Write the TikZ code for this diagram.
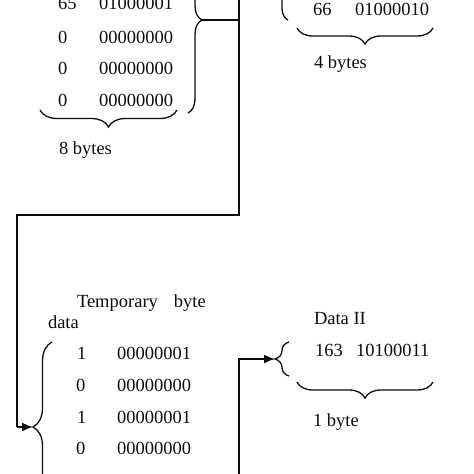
\documentclass[tikz,border=0pt]{standalone}
\usepackage{fontspec}
\setmainfont{Liberation Serif}
\usetikzlibrary{arrows.meta,decorations.pathreplacing}
\definecolor{ByteInk}{gray}{0.05}
\tikzset{
    bytes/diagram/.style={
        x=1pt, y=-1pt,
        font=\fontsize{18.5}{20}\selectfont,
        draw=ByteInk,
        text=ByteInk,
        line width=1.6pt,
        every node/.style={inner sep=0pt, outer sep=0pt}
    },
    bytes/cell/.style={anchor=base west},
    bytes/brace/.style={
        draw=ByteInk, line width=1.3pt,
        decorate, decoration={brace, amplitude=#1}
    },
    bytes/brace/.default=14pt,
    bytes/link/.style={draw=ByteInk, line width=1.6pt},
    bytes/arrow/.style={
        draw=ByteInk, line width=1.6pt,
        -{Latex[length=11pt, width=9pt]}
    }
}

\begin{document}
\begin{tikzpicture}[bytes/diagram]
    \useasboundingbox (0,0) rectangle (474,474);
    \clip (0,0) rectangle (474,474);

    % first group, 8 bytes
    \node[bytes/cell] (v65)  at (58,9)   {65};
    \node[bytes/cell] (b65)  at (99,9)   {01000001};
    \node[bytes/cell] (v0a)  at (58,43)  {0};
    \node[bytes/cell] (b0a)  at (99,43)  {00000000};
    \node[bytes/cell] (v0b)  at (58,74)  {0};
    \node[bytes/cell] (b0b)  at (99,74)  {00000000};
    \node[bytes/cell] (v0c)  at (58,106) {0};
    \node[bytes/cell] (b0c)  at (99,106) {00000000};
    \draw[bytes/brace=14pt] (188,-73) -- (188,113);
    \draw[bytes/brace=17pt] (177,110) -- (40,110);
    \node[bytes/cell] (eight) at (59,154) {8 bytes};
    \coordinate (tipA) at (202,20);

    % second group, 4 bytes
    \node[bytes/cell] (v66) at (313,15) {66};
    \node[bytes/cell] (b66) at (355,15) {01000010};
    \draw[bytes/brace=12pt] (288,20) -- (288,-60);
    \draw[bytes/brace=16pt] (433,28) -- (297,28);
    \node[bytes/cell] (four) at (314,68) {4 bytes};

    % temporary byte data
    \node[bytes/cell] (temp) at (77,307) {Temporary\hspace{16pt}byte};
    \node[bytes/cell] (data) at (48,328) {data};
    \node[bytes/cell] (t1a) at (77,359) {1};
    \node[bytes/cell] (c1a) at (117,359) {00000001};
    \node[bytes/cell] (t0a) at (76,391) {0};
    \node[bytes/cell] (c0a) at (117,391) {00000000};
    \node[bytes/cell] (t1b) at (77,423) {1};
    \node[bytes/cell] (c1b) at (117,423) {00000001};
    \node[bytes/cell] (t0b) at (76,454) {0};
    \node[bytes/cell] (c0b) at (117,454) {00000000};
    \draw[bytes/brace=19pt] (52,512) -- (52,342);
    \coordinate (tipC) at (33,427);

    % Data II, 1 byte
    \node[bytes/cell] (dtwo) at (314,324) {Data II};
    \node[bytes/cell] (v163) at (315,356) {163};
    \node[bytes/cell] (b163) at (356,356) {10100011};
    \draw[bytes/brace=14pt] (289,376) -- (289,342);
    \draw[bytes/brace=16pt] (433,382) -- (297,382);
    \node[bytes/cell] (one) at (313,426) {1 byte};
    \coordinate (tipD) at (275,359);

    % links
    \coordinate (topA)  at (239,-10);
    \coordinate (bendA) at (239,20);
    \coordinate (bendB) at (239,215);
    \coordinate (bendC) at (17,215);
    \coordinate (bendD) at (17,427);
    \coordinate (footE) at (239,490);
    \coordinate (bendE) at (239,359);
    \draw[bytes/link] (tipA) -- (bendA);
    \draw[bytes/link] (topA) -- (bendB) -- (bendC) -- (bendD);
    \draw[bytes/arrow] (bendD) -- (tipC);
    \draw[bytes/arrow] (footE) -- (bendE) -- (tipD);
\end{tikzpicture}
\end{document}
